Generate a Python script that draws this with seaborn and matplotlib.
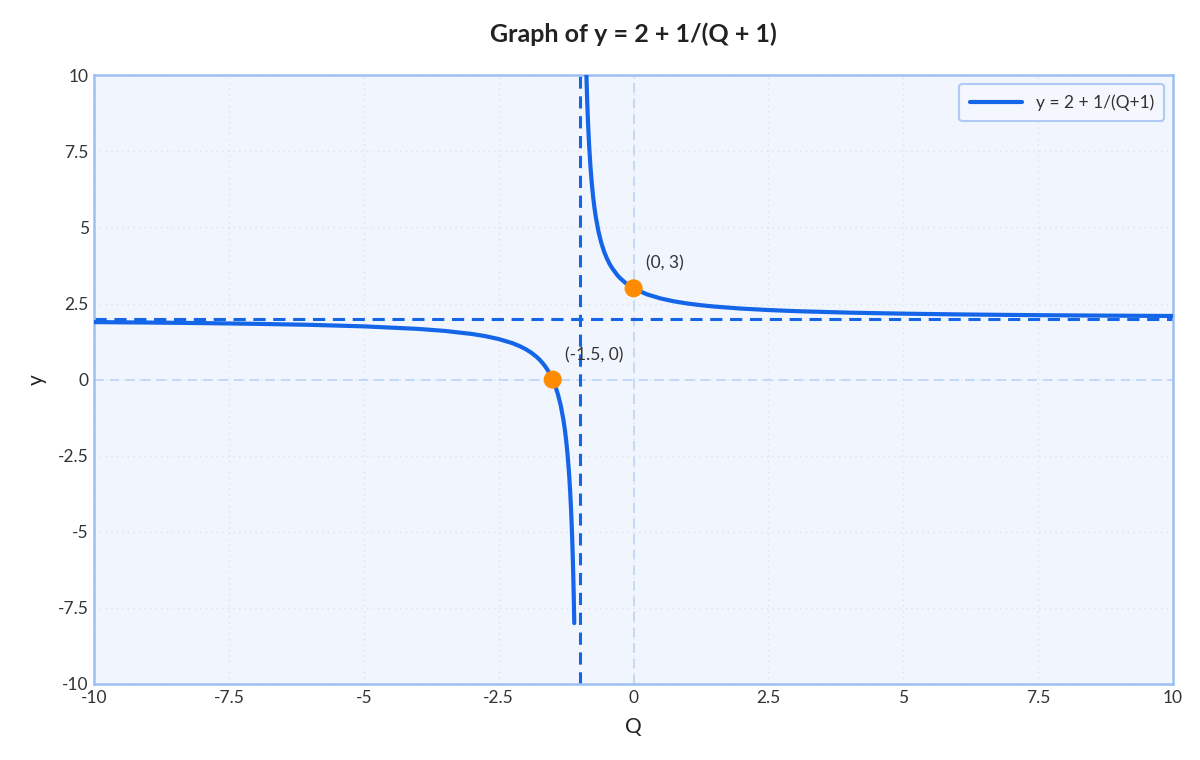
import matplotlib
matplotlib.use("Agg")
import matplotlib.pyplot as plt
import seaborn as sns
import pandas as pd

# Values
left_q = [-10, -9, -8, -7, -6, -5, -4, -3.5, -3, -2.75, -2.5, -2.25, -2.1, -2, -1.9, -1.8,
          -1.75, -1.7, -1.65, -1.6, -1.55, -1.5, -1.45, -1.4, -1.35, -1.3, -1.275, -1.25,
          -1.225, -1.2, -1.19, -1.175, -1.16, -1.15, -1.14, -1.13, -1.125, -1.12, -1.11, -1.1]
left_y = [1.889, 1.875, 1.857, 1.833, 1.8, 1.75, 1.667, 1.6, 1.5, 1.429, 1.333, 1.2, 1.091,
          1.0, 0.889, 0.75, 0.667, 0.571, 0.462, 0.333, 0.182, 0.0, -0.222, -0.5, -0.857,
          -1.333, -1.636, -2.0, -2.444, -3.0, -3.263, -3.714, -4.25, -4.667, -5.143, -5.692,
          -6.0, -6.333, -7.091, -8.0]
right_q = [-0.9, -0.875, -0.86, -0.85, -0.84, -0.825, -0.8, -0.775, -0.75, -0.725, -0.7,
           -0.65, -0.6, -0.55, -0.5, -0.45, -0.4, -0.3, -0.25, -0.15, 0, 0.25, 0.5, 0.75,
           1, 1.25, 1.5, 2, 2.5, 3, 4, 5, 6, 7, 8, 9, 10]
right_y = [12.0, 10.0, 9.143, 8.667, 8.25, 7.714, 7.0, 6.444, 6.0, 5.636, 5.333,
           4.857, 4.5, 4.222, 4.0, 3.818, 3.667, 3.429, 3.333, 3.176, 3.0, 2.8, 2.667, 2.571,
           2.5, 2.444, 2.4, 2.333, 2.286, 2.25, 2.2, 2.167, 2.143, 2.125, 2.111, 2.1, 2.091]
point_q = [0, -1.5]
point_y = [3, 0]
point_labels = ["(0, 3)", "(-1.5, 0)"]
asym_h = 2
asym_v = -1
x_ticks = [-10, -7.5, -5, -2.5, 0, 2.5, 5, 7.5, 10]
y_ticks = [-10, -7.5, -5, -2.5, 0, 2.5, 5, 7.5, 10]
tick_labels = ["-10", "-7.5", "-5", "-2.5", "0", "2.5", "5", "7.5", "10"]

sns.set_theme(style="white")
plt.rcParams["font.family"] = ["Lato", "DejaVu Sans"]

BLUE = "#1565e8"
ORANGE = "#ff8c00"
SPINE = "#9dbff3"
LIGHT = "#c3d9f7"

fig = plt.figure(figsize=(12, 7.6), dpi=100)
ax = fig.add_axes([0.0785, 0.1, 0.899, 0.801])
ax.set_facecolor("#f1f6fe")

left_df = pd.DataFrame({"Q": left_q, "y": left_y})
right_df = pd.DataFrame({"Q": right_q, "y": right_y})

ax.axhline(0, color=LIGHT, lw=1.4, ls=(0, (5, 3)), zorder=1)
ax.axvline(0, color=LIGHT, lw=1.4, ls=(0, (5, 3)), zorder=1)

sns.lineplot(data=left_df, x="Q", y="y", ax=ax, color=BLUE, lw=3, sort=False,
             label="y = 2 + 1/(Q+1)", zorder=3)
sns.lineplot(data=right_df, x="Q", y="y", ax=ax, color=BLUE, lw=3, sort=False,
             zorder=3)

ax.axhline(asym_h, color=BLUE, lw=2.2, ls=(0, (4, 2.5)), zorder=2)
ax.axvline(asym_v, color=BLUE, lw=2.2, ls=(0, (4, 2.5)), zorder=2)

sns.scatterplot(x=point_q, y=point_y, ax=ax, color=ORANGE, s=170, edgecolor="none",
                zorder=4)
for q, yv, lab in zip(point_q, point_y, point_labels):
    ax.annotate(lab, (q, yv), xytext=(9, 14), textcoords="offset points",
                fontsize=12.5, color="#333333")

ax.set_xlim(-10, 10)
ax.set_ylim(-10, 10)
ax.set_xticks(x_ticks)
ax.set_xticklabels(tick_labels)
ax.set_yticks(y_ticks)
ax.set_yticklabels(tick_labels)
ax.tick_params(axis="both", length=0, labelsize=12.5, labelcolor="#333333", pad=4)
ax.grid(True, color="#dde3ec", ls=(0, (1, 3)), lw=1)
for s in ax.spines.values():
    s.set_color(SPINE)
    s.set_linewidth(1.8)

ax.set_xlabel("Q", fontsize=15, color="#222222", labelpad=8)
ax.set_ylabel("y", fontsize=15, color="#222222", labelpad=8)
ax.set_title("Graph of y = 2 + 1/(Q + 1)", fontsize=18, fontweight="bold",
             color="#222222", pad=24)

leg = ax.legend(loc="upper right", fontsize=12.5, frameon=True, handlelength=3,
                borderpad=0.6)
leg.get_frame().set_edgecolor(SPINE)
leg.get_frame().set_linewidth(1.5)
leg.get_frame().set_facecolor("#f6f9ff")
for t in leg.get_texts():
    t.set_color("#333333")

fig.savefig("out.png", dpi=100)
